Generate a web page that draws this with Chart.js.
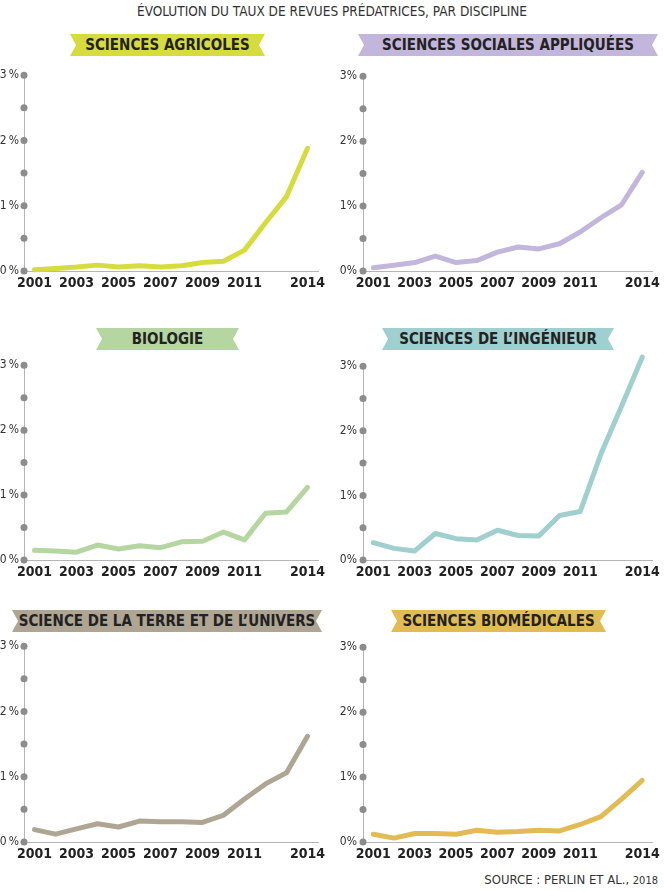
<!DOCTYPE html>
<html lang="fr">
<head>
<meta charset="utf-8">
<title>Évolution du taux de revues prédatrices, par discipline</title>
<script src="https://cdn.jsdelivr.net/npm/chart.js@4/dist/chart.umd.min.js"></script>
<style>
	body {
		margin: 0;
		background: #fff;
		width: 664px;
		height: 892px;
		position: relative;
		overflow: hidden;
		font-family: 'Liberation Sans Narrow', 'DejaVu Sans Condensed', 'Roboto', sans-serif;
		color: #222;
	}
	.title {
		position: absolute;
		top: 3px;
		left: 0;
		width: 664px;
		text-align: center;
		font-size: 13.5px;
		color: #333;
	}
	.banner {
		position: absolute;
		height: 22px;
		line-height: 23px;
		text-align: center;
		font-weight: bold;
		font-size: 15px;
		color: #222;
		clip-path: polygon(0 0, 100% 0, calc(100% - 6px) 50%, 100% 100%, 0 100%, 6px 50%);
	}
	.panel {
		position: absolute;
	}
	.source {
		position: absolute;
		right: 6px;
		top: 872px;
		font-size: 13px;
		color: #333;
	}
	.source small {
		font-size: 11px;
	}
</style>
</head>
<body>
<div class="title">ÉVOLUTION DU TAUX DE REVUES PRÉDATRICES, PAR DISCIPLINE</div>

<div class="banner" style="left:70px;top:34px;width:195px;background:#d6dc3e;">SCIENCES AGRICOLES</div>
<div class="banner" style="left:358px;top:34px;width:300px;background:#c3b6dc;">SCIENCES SOCIALES APPLIQUÉES</div>
<div class="banner" style="left:96px;top:328px;width:143px;background:#b5d6a0;">BIOLOGIE</div>
<div class="banner" style="left:382px;top:328px;width:232px;background:#9fcfcf;">SCIENCES DE L’INGÉNIEUR</div>
<div class="banner" style="left:12px;top:610px;width:310px;background:#aea593;">SCIENCE DE LA TERRE ET DE L’UNIVERS</div>
<div class="banner" style="left:391px;top:610px;width:215px;background:#e3bb55;">SCIENCES BIOMÉDICALES</div>

<div class="panel" style="left:0;top:63px;"><canvas id="agricoles" width="330" height="232"></canvas></div>
<div class="panel" style="left:332px;top:63px;"><canvas id="sociales" width="332" height="232"></canvas></div>
<div class="panel" style="left:0;top:353px;"><canvas id="biologie" width="330" height="231"></canvas></div>
<div class="panel" style="left:332px;top:353px;"><canvas id="ingenieur" width="332" height="231"></canvas></div>
<div class="panel" style="left:0;top:634px;"><canvas id="terre" width="330" height="232"></canvas></div>
<div class="panel" style="left:332px;top:634px;"><canvas id="biomedicales" width="332" height="232"></canvas></div>

<div class="source">SOURCE : PERLIN ET AL., <small>2018</small></div>

<script>
// Data (share of predatory journals, in %)
const years = [2001, 2002, 2003, 2004, 2005, 2006, 2007, 2008, 2009, 2010, 2011, 2012, 2013, 2014];
const shownYears = [2001, 2003, 2005, 2007, 2009, 2011, 2014];

const agricoles = [0.02, 0.04, 0.06, 0.09, 0.06, 0.08, 0.06, 0.08, 0.13, 0.15, 0.32, 0.74, 1.14, 1.88];
const sociales = [0.05, 0.09, 0.13, 0.23, 0.13, 0.16, 0.29, 0.37, 0.34, 0.42, 0.6, 0.82, 1.02, 1.52];
const biologie = [0.15, 0.14, 0.12, 0.23, 0.17, 0.22, 0.19, 0.28, 0.29, 0.43, 0.31, 0.72, 0.74, 1.12];
const ingenieur = [0.27, 0.18, 0.14, 0.41, 0.33, 0.31, 0.46, 0.38, 0.37, 0.69, 0.75, 1.64, 2.38, 3.14];
const terre = [0.19, 0.12, 0.2, 0.28, 0.23, 0.32, 0.31, 0.31, 0.3, 0.41, 0.66, 0.89, 1.06, 1.62];
const biomedicales = [0.12, 0.06, 0.13, 0.13, 0.12, 0.18, 0.15, 0.16, 0.18, 0.17, 0.27, 0.39, 0.66, 0.95];

const FONT = "'Liberation Sans Narrow', 'DejaVu Sans Condensed', 'Roboto', sans-serif";

// grey dots on every y tick
const tickDots = {
	id: 'tickDots',
	beforeDatasetsDraw(chart) {
		const y = chart.scales.y;
		const ctx = chart.ctx;
		ctx.save();
		ctx.fillStyle = '#8c8c8c';
		y.ticks.forEach((t) => {
			ctx.beginPath();
			ctx.arc(chart.chartArea.left, y.getPixelForValue(t.value), 3.5, 0, Math.PI * 2);
			ctx.fill();
		});
		ctx.restore();
	},
};

function makeChart(id, values, color, side) {
	const left = side === 'left';
	return new Chart(document.getElementById(id), {
		type: 'line',
		data: {
			labels: years,
			datasets: [
				{
					data: values,
					borderColor: color,
					borderWidth: 5,
					borderCapStyle: 'round',
					borderJoinStyle: 'round',
					pointRadius: 0,
					tension: 0,
					clip: false,
				},
			],
		},
		options: {
			responsive: false,
			animation: false,
			events: [],
			layout: {
				padding: { top: 12, bottom: 0, left: 0, right: left ? 12 : 7 },
			},
			plugins: {
				legend: { display: false },
				tooltip: { enabled: false },
			},
			scales: {
				x: {
					offset: true,
					grid: { display: false, drawTicks: false },
					border: { display: true, color: '#b5b5b5', dash: [1, 3], width: 1 },
					afterFit: (scale) => {
						scale.height = 24;
					},
					ticks: {
						autoSkip: false,
						maxRotation: 0,
						padding: 4,
						color: '#222',
						font: { family: FONT, size: 14, weight: 'bold' },
						callback: (val, i) => (shownYears.includes(years[i]) ? years[i] : ''),
					},
				},
				y: {
					min: 0,
					max: 3,
					grid: { display: false, drawTicks: false },
					border: { display: true, color: '#b5b5b5', dash: [1, 3], width: 1 },
					afterFit: (scale) => {
						scale.width = left ? 24 : 31;
					},
					ticks: {
						stepSize: 0.5,
						padding: left ? 5 : 6,
						color: '#333',
						font: { family: FONT, size: 12 },
						callback: (v) => (Number.isInteger(v) ? v + (left ? '\u2009%' : '%') : ''),
					},
				},
			},
		},
		plugins: [tickDots],
	});
}

makeChart('agricoles', agricoles, '#d6dc3e', 'left');
makeChart('sociales', sociales, '#c3b6dc', 'right');
makeChart('biologie', biologie, '#b5d6a0', 'left');
makeChart('ingenieur', ingenieur, '#9fcfcf', 'right');
makeChart('terre', terre, '#aea593', 'left');
makeChart('biomedicales', biomedicales, '#e3bb55', 'right');
</script>
</body>
</html>
